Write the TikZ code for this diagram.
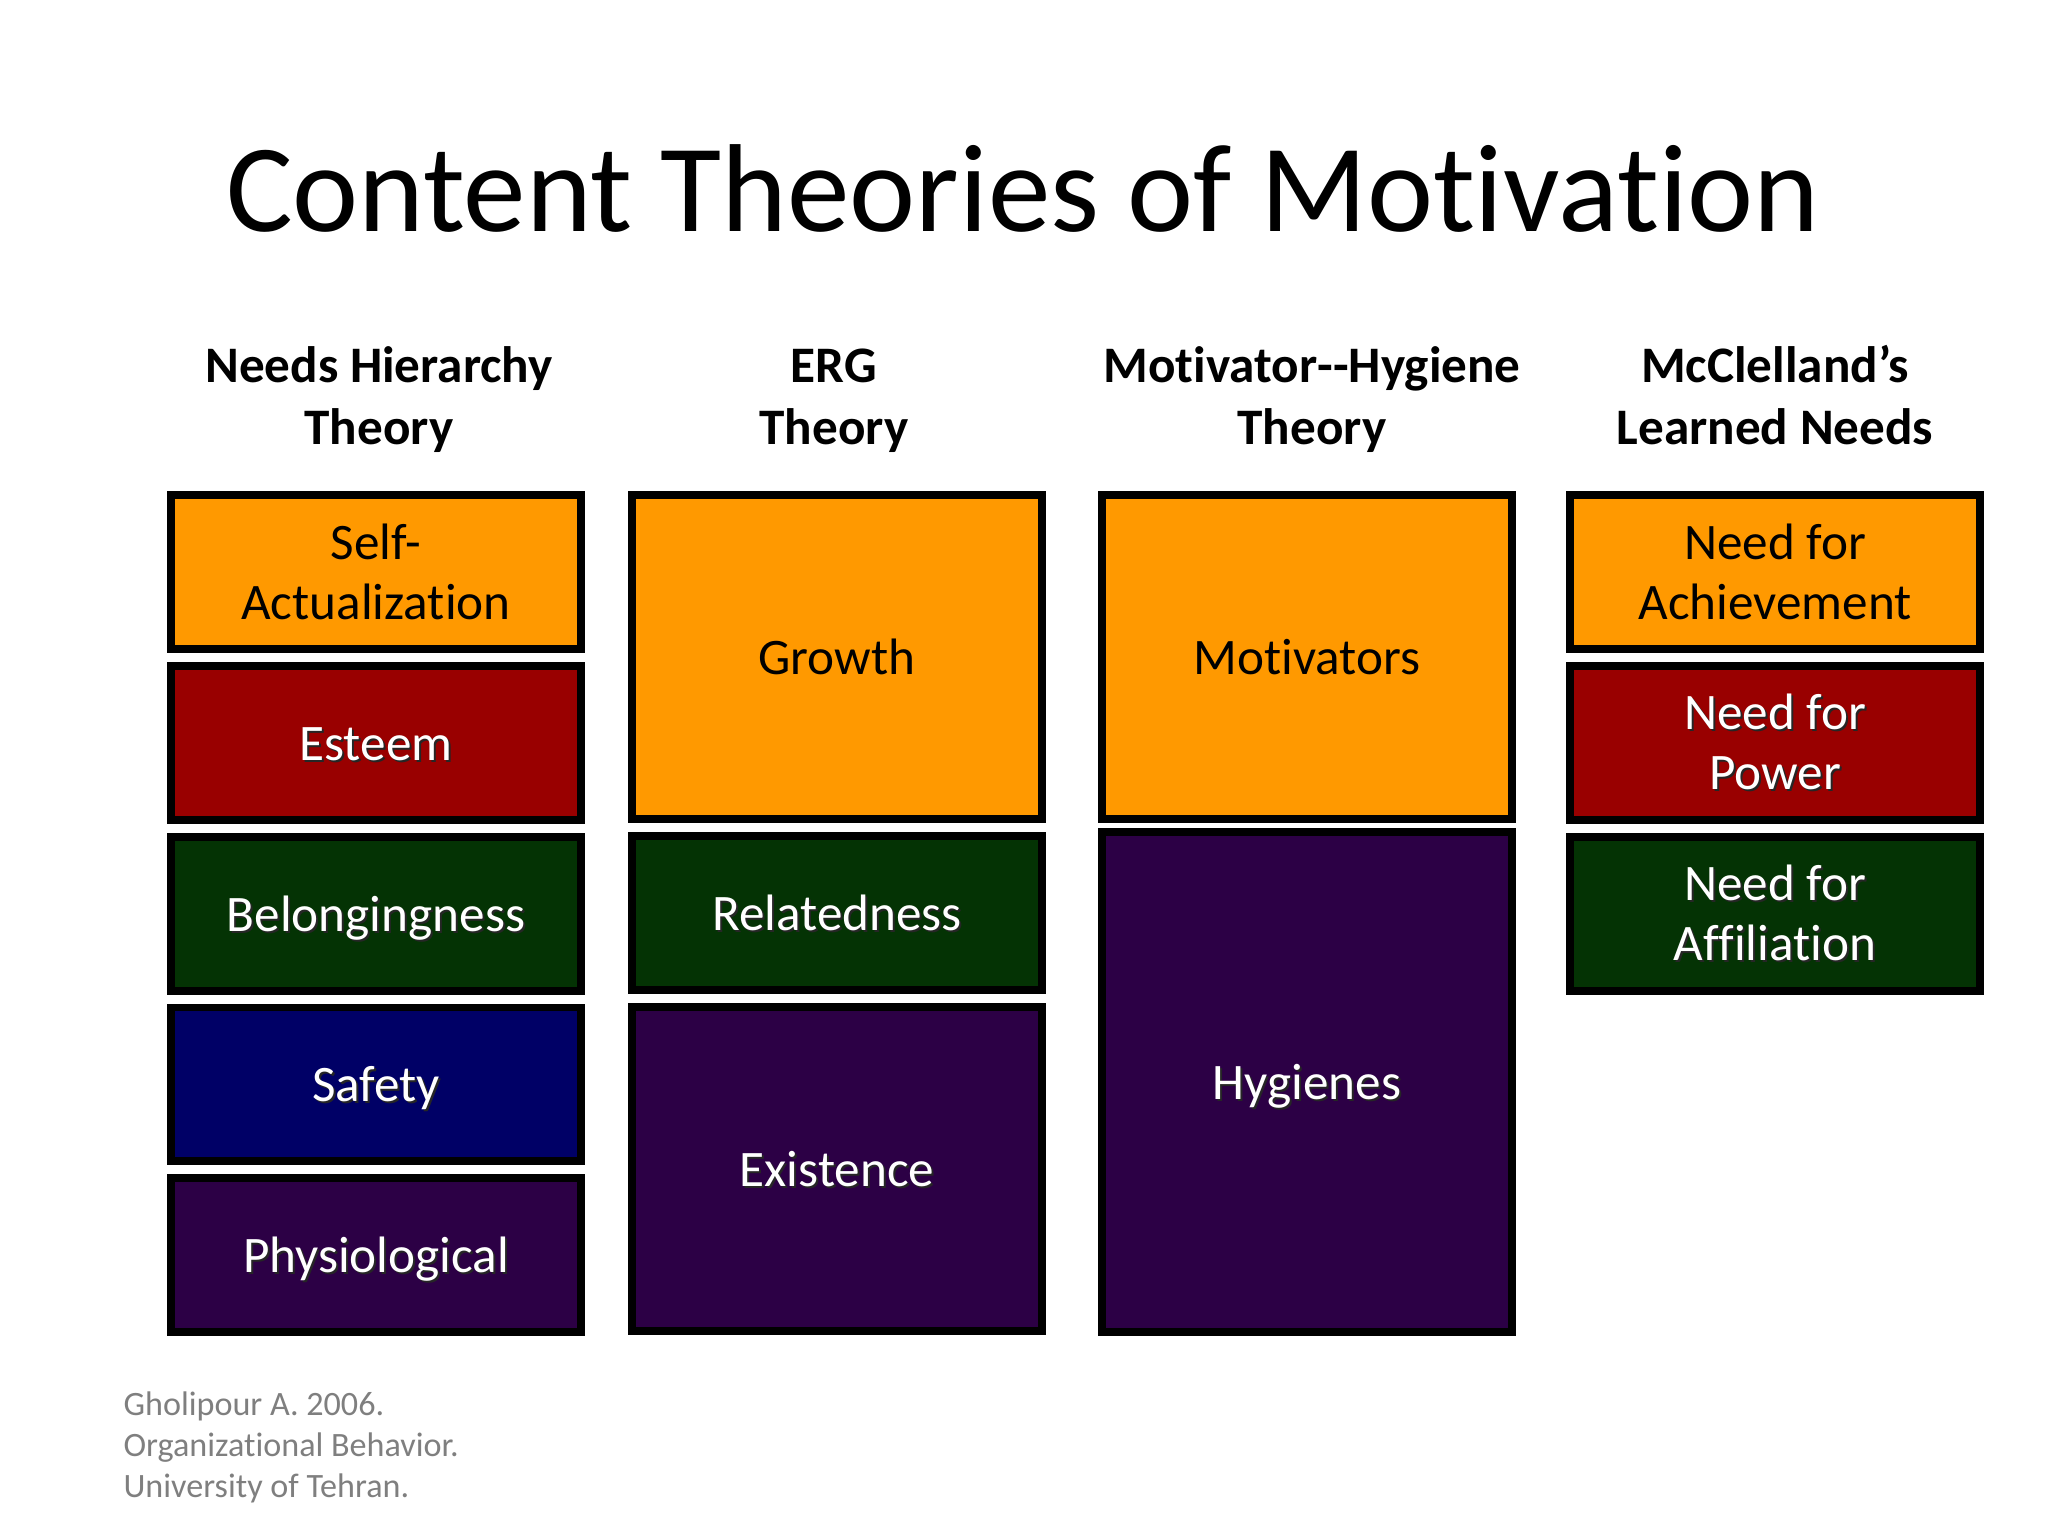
\documentclass[tikz,border=0pt]{standalone}
\usepackage{fontspec}
\setmainfont{Carlito}[Ligatures={TeX,NoCommon}]
\usetikzlibrary{positioning}
\definecolor{Oc}{HTML}{FF9900}
\definecolor{Rc}{HTML}{990000}
\definecolor{Gc}{HTML}{043304}
\definecolor{Bc}{HTML}{000066}
\definecolor{Pc}{HTML}{2C0045}
\definecolor{citec}{HTML}{7F7F7F}
\tikzset{
  blk/.style={rectangle, draw=black, line width=2.8pt, inner sep=0pt,
    minimum width=144.1pt, minimum height=54.1pt, align=center,
    font=\fontsize{18}{21.1}\selectfont},
  dbl/.style={blk, minimum height=113.9pt},
  one/.style={text height=17.1pt, text depth=4.8pt},
  lite/.style={fill=Oc, text=black},
  dark/.style={text=white},
  hdr/.style={font=\fontsize{18}{22}\selectfont\bfseries, align=center, anchor=base},
}
% white text with a soft dark drop shadow
\newcommand{\shd}[1]{\leavevmode\rlap{\kern0.7pt\raisebox{-0.7pt}{\color{black!85}#1}}#1}

\begin{document}
\begin{tikzpicture}[x=0.3515625pt, y=-0.3515625pt]
  \useasboundingbox (0,0) rectangle (2048,1536);
  \node[anchor=base, font=\fontsize{44}{53}\selectfont] (title) at (1023,232) {Content Theories of Motivation};

  % column heads (base = last line)
  \node[hdr] (h1) at (379,445) {Needs Hierarchy\\Theory};
  \node[hdr] (h2) at (834,445) {ERG\\Theory};
  \node[hdr] (h3) at (1312,445) {Motivator\mbox{-}\mbox{-}Hygiene\\Theory};
  \node[hdr] (h4) at (1775,445) {McClelland's\\Learned Needs};

  % Maslow
  \node[blk, lite, anchor=north] (self) at (376,491) {Self-\\Actualization};
  \node[blk, one, dark, fill=Rc, below=3.16pt of self] (est) {\shd{Esteem}};
  \node[blk, one, dark, fill=Gc, below=3.16pt of est] (bel) {\shd{Belongingness}};
  \node[blk, one, dark, fill=Bc, below=3.16pt of bel] (saf) {\shd{Safety}};
  \node[blk, one, dark, fill=Pc, below=3.16pt of saf] (phy) {\shd{Physiological}};

  % ERG
  \node[dbl, one, lite, anchor=north] (gro) at (837,491) {Growth};
  \node[blk, one, dark, fill=Gc, below=3.16pt of gro] (rel) {\shd{Relatedness}};
  \node[dbl, one, dark, fill=Pc, below=3.16pt of rel] (exi) {\shd{Existence}};

  % Herzberg
  \node[dbl, one, lite, anchor=north] (mot) at (1307,491) {Motivators};
  \node[blk, one, dark, fill=Pc, minimum height=175.8pt, below=1.76pt of mot] (hyg) {\shd{Hygienes}};

  % McClelland
  \node[blk, lite, anchor=north] (ach) at (1775,491) {Need for\\Achievement};
  \node[blk, dark, fill=Rc, below=3.16pt of ach] (pow) {\shd{Need for}\\\shd{Power}};
  \node[blk, dark, fill=Gc, below=3.16pt of pow] (aff) {\shd{Need for}\\\shd{Affiliation}};

  \node[anchor=base west, align=left, text=citec, inner sep=0pt, font=\fontsize{12}{14.4}\selectfont] (cite) at (123,1497)
    {Gholipour A. 2006.\\Organizational Behavior.\\University of Tehran.};
\end{tikzpicture}
\end{document}
